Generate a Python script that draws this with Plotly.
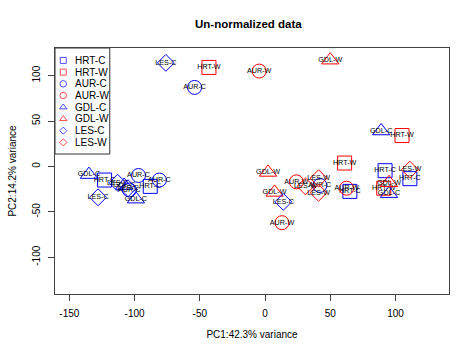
import plotly.graph_objects as go

# ---- data (PC1, PC2 scores) ----
groups = ["HRT-C", "HRT-W", "AUR-C", "AUR-W", "GDL-C", "GDL-W", "LES-C", "LES-W"]
colors = ["blue", "red", "blue", "red", "blue", "red", "blue", "red"]

hrt_c_x = [-123, -88, 65, 92, 111]
hrt_c_y = [-15, -22, -27.5, -4.7, -13.5]
hrt_w_x = [-43, 61, 105, 91]
hrt_w_y = [109, 3.7, 34, -24]
aur_c_x = [-54, -97, -81, -104, 42]
aur_c_y = [87, -10, -15, -26, -21]
aur_w_x = [-4.5, 24, 13, 62.5]
aur_w_y = [105, -17, -62, -24]
gdl_c_x = [-135, -99, -108, 89, 95]
gdl_c_y = [-9, -36, -21, 39, -30]
gdl_w_x = [50, 2.3, 7.3, 95]
gdl_w_y = [117, -6.6, -28.6, -18]
les_c_x = [-76, -113, -128, 14, -105]
les_c_y = [114, -18, -34, -39, -24]
les_w_x = [31, 41, 41, 111]
les_w_y = [-22, -13, -29, -3.6]

xs = [hrt_c_x, hrt_w_x, aur_c_x, aur_w_x, gdl_c_x, gdl_w_x, les_c_x, les_w_x]
ys = [hrt_c_y, hrt_w_y, aur_c_y, aur_w_y, gdl_c_y, gdl_w_y, les_c_y, les_w_y]

x_ticks = [-150, -100, -50, 0, 50, 100]
y_ticks = [-100, -50, 0, 50, 100]

symbols = ["square-open", "square-open", "circle-open", "circle-open",
           "triangle-up-open", "triangle-up-open", "diamond-open", "diamond-open"]
sizes = [14, 14, 14, 14, 15, 15, 13, 13]
leg_sizes = [6, 6, 6.5, 6.5, 6.5, 6.5, 5.5, 5.5]

FONT = "Liberation Sans, Arial, Helvetica, sans-serif"

fig = go.Figure()
for g, c, x, y, s, sz in zip(groups, colors, xs, ys, symbols, sizes):
    fig.add_trace(go.Scatter(
        x=x, y=y, mode="markers+text", text=[g] * len(x),
        textposition="middle center",
        textfont=dict(family=FONT, size=7.2, color="black"),
        marker=dict(symbol=s, size=sz, color=c, line=dict(width=1, color=c)),
        showlegend=False, hoverinfo="skip"))

# ---- legend drawn inside the plot (R-style box legend) ----
n = len(groups)
row_top = 0.9496
row_step = 0.0476
leg_y = [row_top - i * row_step for i in range(n)]
fig.add_trace(go.Scatter(
    x=[0.021] * n, y=leg_y, mode="markers", xaxis="x2", yaxis="y2",
    marker=dict(symbol=symbols, size=leg_sizes, color=colors,
                line=dict(width=1, color=colors)),
    showlegend=False, hoverinfo="skip"))
for g, yy in zip(groups, leg_y):
    fig.add_annotation(x=0.046, y=yy, xref="x2", yref="y2", text=g,
                       showarrow=False, xanchor="left", yanchor="middle",
                       font=dict(family=FONT, size=10, color="black"))
fig.add_shape(type="rect", xref="x2", yref="y2", x0=0, x1=0.139, y0=0.569, y1=1,
              line=dict(color="#333333", width=1), fillcolor="rgba(0,0,0,0)")

axis_common = dict(showgrid=False, zeroline=False, showline=True, mirror=True,
                   linecolor="#444444", linewidth=1, ticks="outside", ticklen=6,
                   tickwidth=1, tickcolor="#444444",
                   tickfont=dict(family=FONT, size=10, color="black"))

fig.update_layout(
    width=474, height=355,
    margin=dict(l=48, r=25, t=48, b=61),
    paper_bgcolor="white", plot_bgcolor="white",
    title=dict(text="<b>Un-normalized data</b>", x=0.524, xanchor="center",
               y=1 - 24.3 / 355, yanchor="middle",
               font=dict(family=FONT, size=11.5, color="black")),
    xaxis=dict(range=[-161, 141], tickvals=x_ticks, ticktext=[str(v) for v in x_ticks],
               title=dict(text="PC1:42.3% variance", standoff=12,
                          font=dict(family=FONT, size=10, color="black")),
               ticklabelstandoff=4, **axis_common),
    yaxis=dict(range=[-140.5, 130.4], tickvals=y_ticks, ticktext=[str(v) for v in y_ticks],
               tickangle=-90,
               title=dict(text="PC2:14.2% variance", standoff=12,
                          font=dict(family=FONT, size=10, color="black")),
               ticklabelstandoff=4, **axis_common),
    xaxis2=dict(overlaying="x", range=[0, 1], visible=False, fixedrange=True),
    yaxis2=dict(overlaying="y", range=[0, 1], visible=False, fixedrange=True),
    font=dict(family=FONT),
)

fig.write_html("out.html", config={"displayModeBar": False},
               post_script="document.body.style.margin='0';")
